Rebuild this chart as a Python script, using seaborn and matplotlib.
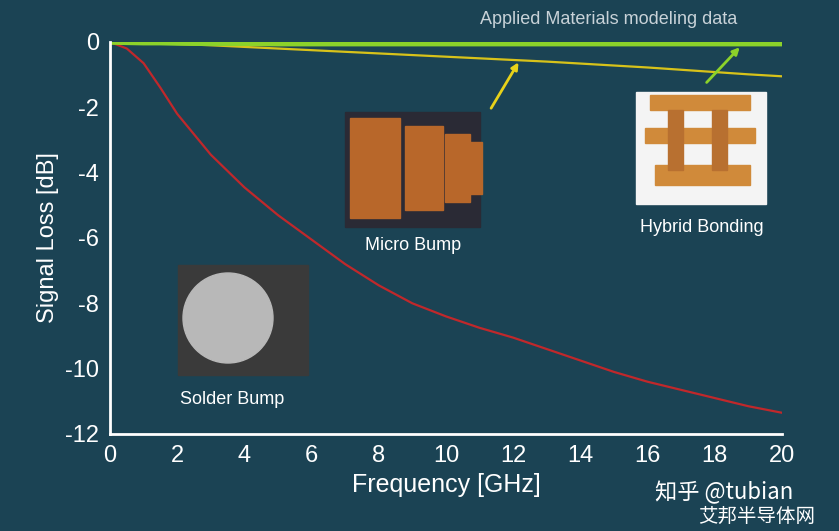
import numpy as np
import pandas as pd
import matplotlib
matplotlib.use("Agg")
import matplotlib.pyplot as plt
import seaborn as sns
from matplotlib.patches import Rectangle, Ellipse

freq = [0, 0.5, 1, 1.5, 2, 3, 4, 5, 6, 7, 8, 9, 10, 11, 12, 13, 14, 15, 16, 17, 18, 19, 20]
solder = [0, -0.2, -0.65, -1.4, -2.2, -3.45, -4.45, -5.3, -6.05, -6.8, -7.45, -8.0, -8.4, -8.75, -9.05, -9.4, -9.75, -10.1, -10.4, -10.65, -10.9, -11.15, -11.35]
micro = [0, -0.01, -0.02, -0.04, -0.06, -0.1, -0.15, -0.2, -0.25, -0.3, -0.35, -0.4, -0.45, -0.5, -0.55, -0.6, -0.66, -0.72, -0.78, -0.85, -0.92, -0.99, -1.05]
hybrid = [0, -0.01, -0.02, -0.02, -0.03, -0.04, -0.04, -0.05, -0.05, -0.05, -0.05, -0.05, -0.05, -0.05, -0.05, -0.05, -0.05, -0.05, -0.05, -0.05, -0.05, -0.05, -0.05]
xticks = [0, 2, 4, 6, 8, 10, 12, 14, 16, 18, 20]
yticks = [0, -2, -4, -6, -8, -10, -12]

n = len(freq)
df = pd.DataFrame({"f": freq * 3, "v": solder + micro + hybrid,
                   "s": ["Solder Bump"] * n + ["Micro Bump"] * n + ["Hybrid Bonding"] * n})

sns.set_style("white")
plt.rcParams['font.family'] = ['Liberation Sans', 'Noto Sans CJK SC']
plt.rcParams['axes.unicode_minus'] = False
bg = "#1b4354"
fig = plt.figure(figsize=(8.39, 5.31), dpi=100, facecolor=bg)
ax = fig.add_axes([110/839, 97/531, 672/839, 392/531])
ax.set_facecolor(bg)
sns.lineplot(data=df[df.s == "Solder Bump"], x="f", y="v", color="#c0282b", lw=1.6, ax=ax)
sns.lineplot(data=df[df.s == "Micro Bump"], x="f", y="v", color="#d8c21a", lw=1.6, ax=ax)
sns.lineplot(data=df[df.s == "Hybrid Bonding"], x="f", y="v", color="#8cd22a", lw=4, ax=ax)
ax.set_xlim(0, 20)
ax.set_ylim(-12, 0)
ax.set_xticks(xticks)
ax.set_yticks(yticks)
ax.tick_params(colors="white", labelsize=17, length=0, pad=8)
for s in ["top", "right"]:
    ax.spines[s].set_visible(False)
for s in ["left", "bottom"]:
    ax.spines[s].set_color("white")
    ax.spines[s].set_linewidth(2)
ax.set_xlabel("Frequency [GHz]", color="white", fontsize=18)
ax.set_ylabel("Signal Loss [dB]", color="white", fontsize=17)

def box(x, y, w, h, c):
    fig.patches.append(Rectangle((x/839, 1-(y+h)/531), w/839, h/531, transform=fig.transFigure, color=c, zorder=3))
box(178, 265, 130, 110, "#3a3a3a")
fig.patches.append(Ellipse((228/839, 1-318/531), 90/839, 90/531, transform=fig.transFigure, color="#b8b8b8", zorder=4))
box(345, 112, 135, 115, "#2a2a35")
for i, (x, w) in enumerate([(350, 50), (405, 38), (445, 25), (470, 12)]):
    box(x, 118 + i*8, w, 100 - i*16, "#b8672a")
box(636, 92, 130, 112, "#f4f4f4")
box(650, 95, 100, 15, "#d08a3a")
box(645, 128, 110, 15, "#d08a3a")
box(655, 165, 95, 20, "#d08a3a")
box(668, 110, 15, 60, "#b87030")
box(712, 110, 15, 60, "#b87030")

fig.text(180/839, 1-399/531, "Solder Bump", color="white", fontsize=13, va="center")
fig.text(365/839, 1-246/531, "Micro Bump", color="white", fontsize=13, va="center")
fig.text(640/839, 1-228/531, "Hybrid Bonding", color="white", fontsize=13, va="center")
fig.text(480/839, 1-20/531, "Applied Materials modeling data", color="#c8d2d8", fontsize=13, va="center")
ax.annotate("", xy=(12.2, -0.55), xytext=(11.3, -2.1),
            arrowprops=dict(arrowstyle="-|>", color="#e8d21a", lw=2))
ax.annotate("", xy=(18.8, -0.1), xytext=(17.7, -1.3),
            arrowprops=dict(arrowstyle="-|>", color="#8cd22a", lw=2))
fig.text(655/839, 1-493/531, "知乎 @tubian", color="white", fontsize=16, va="center",
         family=['Noto Sans CJK SC', 'DejaVu Sans'])
fig.text(698/839, 1-516/531, "艾邦半导体网", color="white", fontsize=14, va="center",
         family=['Noto Sans CJK SC', 'DejaVu Sans'])
fig.savefig("out.png", dpi=100, facecolor=bg)
